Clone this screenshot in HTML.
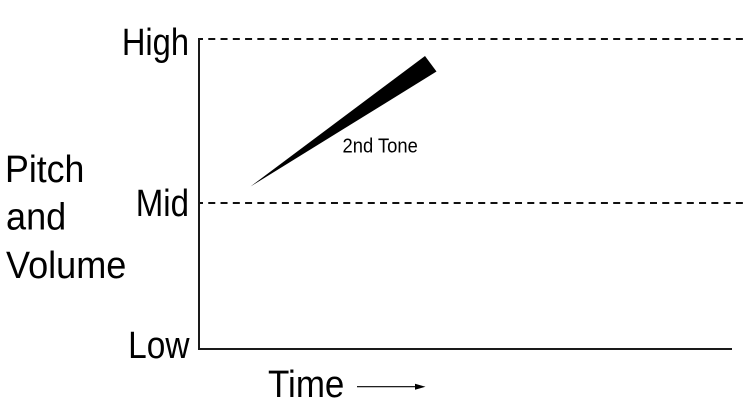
<!DOCTYPE html>
<html>
<head>
<meta charset="utf-8">
<style>
  html, body { margin: 0; padding: 0; background: #ffffff; }
  svg { display: block; }
  text { font-family: "Liberation Sans", Arial, sans-serif; fill: #000; }
</style>
</head>
<body>
<svg width="750" height="415" viewBox="0 0 750 415" xmlns="http://www.w3.org/2000/svg">
  <!-- dashed reference lines -->
  <line x1="199" y1="39" x2="745" y2="39" stroke="#111" stroke-width="2" stroke-dasharray="7 5.27" stroke-dashoffset="3"/>
  <line x1="199" y1="203" x2="745" y2="203" stroke="#111" stroke-width="2" stroke-dasharray="7 5.27" stroke-dashoffset="3"/>

  <!-- axes -->
  <line x1="199" y1="38" x2="199" y2="350" stroke="#1a1a1a" stroke-width="2"/>
  <line x1="198" y1="349" x2="732" y2="349" stroke="#1a1a1a" stroke-width="2"/>

  <!-- wedge -->
  <polygon points="250.5,186.5 425,56 436.5,71.5" fill="#000"/>

  <!-- 2nd Tone label -->
  <g transform="translate(342.5,152.5) scale(0.92,1)">
    <text x="0" y="0" font-size="20">2nd Tone</text>
  </g>

  <!-- y tick labels -->
  <g transform="translate(189,55) scale(0.86,1)">
    <text x="0" y="0" font-size="38" text-anchor="end">High</text>
  </g>
  <g transform="translate(189,216) scale(0.87,1)">
    <text x="0" y="0" font-size="38" text-anchor="end">Mid</text>
  </g>
  <g transform="translate(189.5,358) scale(0.88,1)">
    <text x="0" y="0" font-size="38" text-anchor="end">Low</text>
  </g>

  <!-- y axis title -->
  <g transform="translate(5,182) scale(0.94,1)">
    <text x="0" y="0" font-size="38">Pitch</text>
  </g>
  <g transform="translate(6,229.5) scale(0.95,1)">
    <text x="0" y="0" font-size="38">and</text>
  </g>
  <g transform="translate(6,278) scale(0.95,1)">
    <text x="0" y="0" font-size="38">Volume</text>
  </g>

  <!-- x axis title -->
  <g transform="translate(268,397) scale(0.92,1)">
    <text x="0" y="0" font-size="38">Time</text>
  </g>
  <line x1="357" y1="386.7" x2="417" y2="386.7" stroke="#000" stroke-width="1.2"/>
  <polygon points="415,383.7 425.5,386.7 415,389.7" fill="#000"/>
</svg>
</body>
</html>
